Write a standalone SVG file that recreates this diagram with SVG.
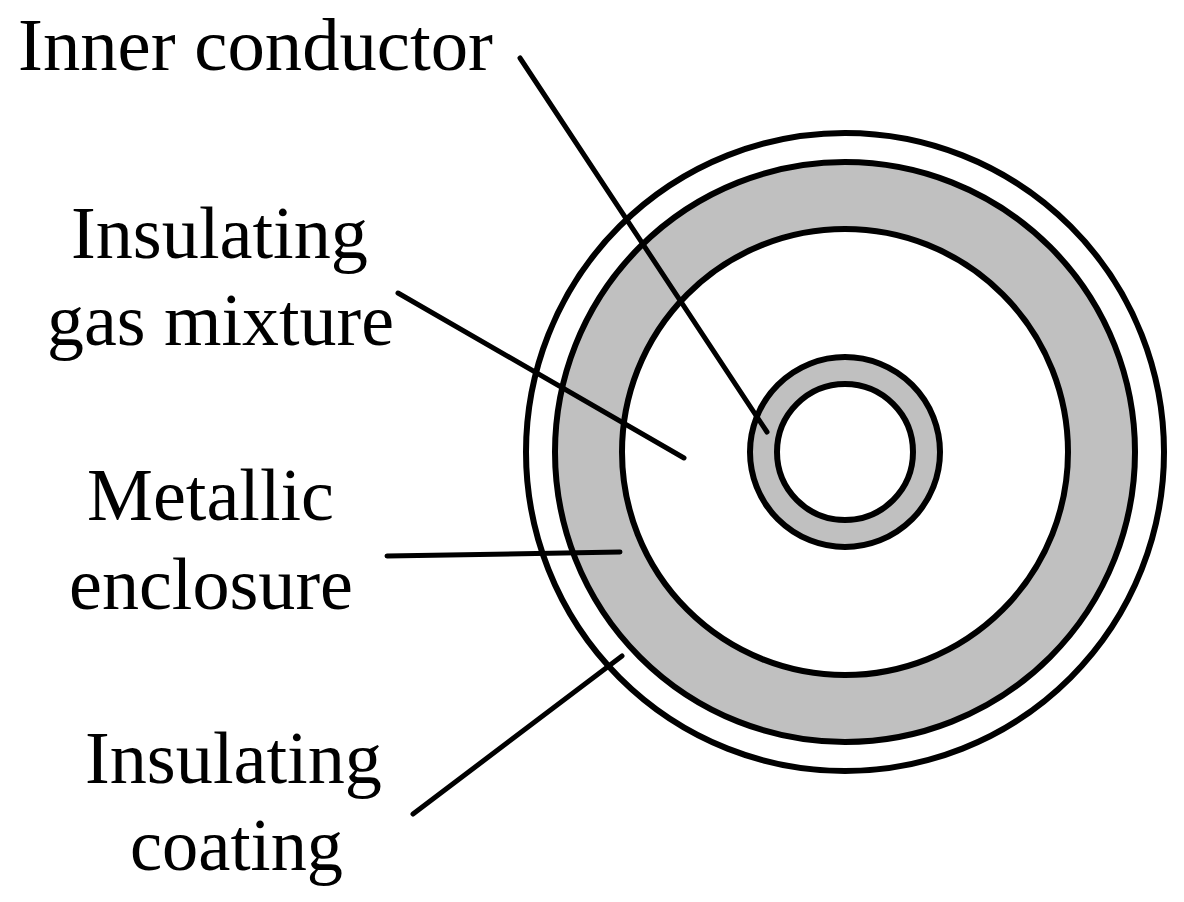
<svg xmlns="http://www.w3.org/2000/svg" width="1184" height="902" viewBox="0 0 1184 902">
<style>
.r{stroke:#000;stroke-width:6}
.l{stroke:#000;stroke-width:5;fill:none;stroke-linecap:round}
text{font-family:"Liberation Serif","Times New Roman",serif;font-size:75px;fill:#000}
</style>
<rect width="1184" height="902" fill="#fff"/>
<g id="section">
<circle class="r" cx="845" cy="452" r="319" fill="#fff"/>
<circle class="r" cx="845" cy="452" r="290" fill="#c0c0c0"/>
<circle class="r" cx="845" cy="452" r="223" fill="#fff"/>
<circle class="r" cx="845" cy="452" r="95" fill="#c0c0c0"/>
<circle class="r" cx="845" cy="452" r="68" fill="#fff"/>
</g>
<g id="connectors">
<line class="l" x1="520" y1="58" x2="767" y2="432"/>
<line class="l" x1="398" y1="293" x2="684" y2="458"/>
<line class="l" x1="387" y1="556" x2="620" y2="552"/>
<line class="l" x1="413" y1="814" x2="622" y2="656"/>
</g>
<g id="labels">
<text x="18" y="70" textLength="475" lengthAdjust="spacingAndGlyphs">Inner conductor</text>
<text x="71" y="258" textLength="297" lengthAdjust="spacingAndGlyphs">Insulating</text>
<text x="47" y="345" textLength="347" lengthAdjust="spacingAndGlyphs">gas mixture</text>
<text x="87" y="520" textLength="247" lengthAdjust="spacingAndGlyphs">Metallic</text>
<text x="69" y="609" textLength="284" lengthAdjust="spacingAndGlyphs">enclosure</text>
<text x="85" y="783" textLength="297" lengthAdjust="spacingAndGlyphs">Insulating</text>
<text x="130" y="870" textLength="213" lengthAdjust="spacingAndGlyphs">coating</text>
</g>
</svg>
